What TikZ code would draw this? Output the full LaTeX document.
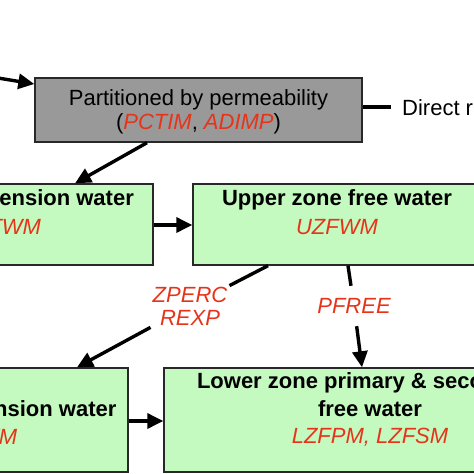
\documentclass[tikz,border=0pt]{standalone}
\usepackage{fontspec}
\setmainfont{Liberation Sans}
\usetikzlibrary{arrows.meta}
\definecolor{boxgreen}{RGB}{196,250,192}
\definecolor{boxgray}{RGB}{153,153,153}
\definecolor{pred}{RGB}{230,52,26}
\definecolor{edge}{RGB}{40,40,40}
\tikzset{
  box/.style={draw=edge, line width=1.4pt, rectangle, inner sep=0pt},
  gbox/.style={box, fill=boxgreen},
  graybox/.style={box, fill=boxgray},
  ttl/.style={font=\fontsize{22}{27}\selectfont\bfseries, align=center, inner sep=0pt},
  txt/.style={font=\fontsize{22}{27}\selectfont, align=center, inner sep=0pt},
  par/.style={font=\fontsize{22}{27}\selectfont\itshape, text=pred, align=center, inner sep=0pt},
  flow/.style={line width=3.4pt, -{Triangle[length=16pt,width=15pt]}},
  plain/.style={line width=3.4pt},
  lbl/.style={font=\fontsize{22}{27}\selectfont\itshape, text=pred, align=center, inner sep=2pt}
}
\begin{document}
\begin{tikzpicture}[x=1pt,y=-1pt]
\useasboundingbox (0,0) rectangle (474,474);
% boxes
\node[graybox, minimum width=327pt, minimum height=64pt] (gray) at (198.5,110) {};
\node[gbox, minimum width=306pt, minimum height=81pt] (uzt) at (0,224.5) {};
\node[gbox, minimum width=288pt, minimum height=81pt] (uzf) at (337,224.5) {};
\node[gbox, minimum width=296pt, minimum height=104pt] (lzt) at (-20,420) {};
\node[gbox, minimum width=412pt, minimum height=104pt] (lzf) at (370,420) {};
% texts
\node[txt] (grayt1) at (198.5,100) {Partitioned by permeability};
\node[txt] (grayt2) at (198.5,124) {(\textcolor{pred}{\itshape PCTIM}, \textcolor{pred}{\itshape ADIMP})};
\node[ttl] (uztt) at (0,200) {Upper zone tension water};
\node[par] (uztp) at (0,227) {UZTWM};
\node[ttl] (uzft) at (337,200) {Upper zone free water};
\node[par] (uzfp) at (337,227) {UZFWM};
\node[ttl] (lztt) at (-18,409) {Lower zone tension water};
\node[par] (lztp) at (-22,437) {LZTWM};
\node[ttl] (lzft1) at (370,383) {Lower zone primary \& secondary};
\node[ttl] (lzft2) at (370,409) {free water};
\node[par] (lzfp) at (370,437) {LZFPM, LZFSM};
\node[txt, anchor=west] (direct) at (402,108) {Direct runoff};
% labels
\node[lbl, minimum width=62pt, minimum height=44pt] (zperc) at (190,306) {ZPERC\\[-4pt]REXP};
\node[lbl, minimum height=40pt] (pfree) at (354,306) {PFREE};
% connectors
\coordinate (inflow) at (-2,78);
\coordinate (directend) at (391,107);
\draw[flow] (inflow) -- (gray.north west |- 0,84);
\draw[flow] (gray.south -| 147,0) -- (uzt.north -| 75,0);
\draw[flow] (uzt.east |- 0,225) -- (uzf.west |- 0,225);
\draw[plain] (uzf.south -| 268,0) -- (zperc);
\draw[flow] (zperc) -- (lzt.north -| 77,0);
\draw[plain] (uzf.south -| 348,0) -- (pfree);
\draw[flow] (pfree) -- (lzf.north -| 362,0);
\draw[flow] (lzt.east |- 0,421) -- (lzf.west |- 0,421);
\draw[plain] (gray.east |- 0,107) -- (directend);
\end{tikzpicture}
\end{document}
